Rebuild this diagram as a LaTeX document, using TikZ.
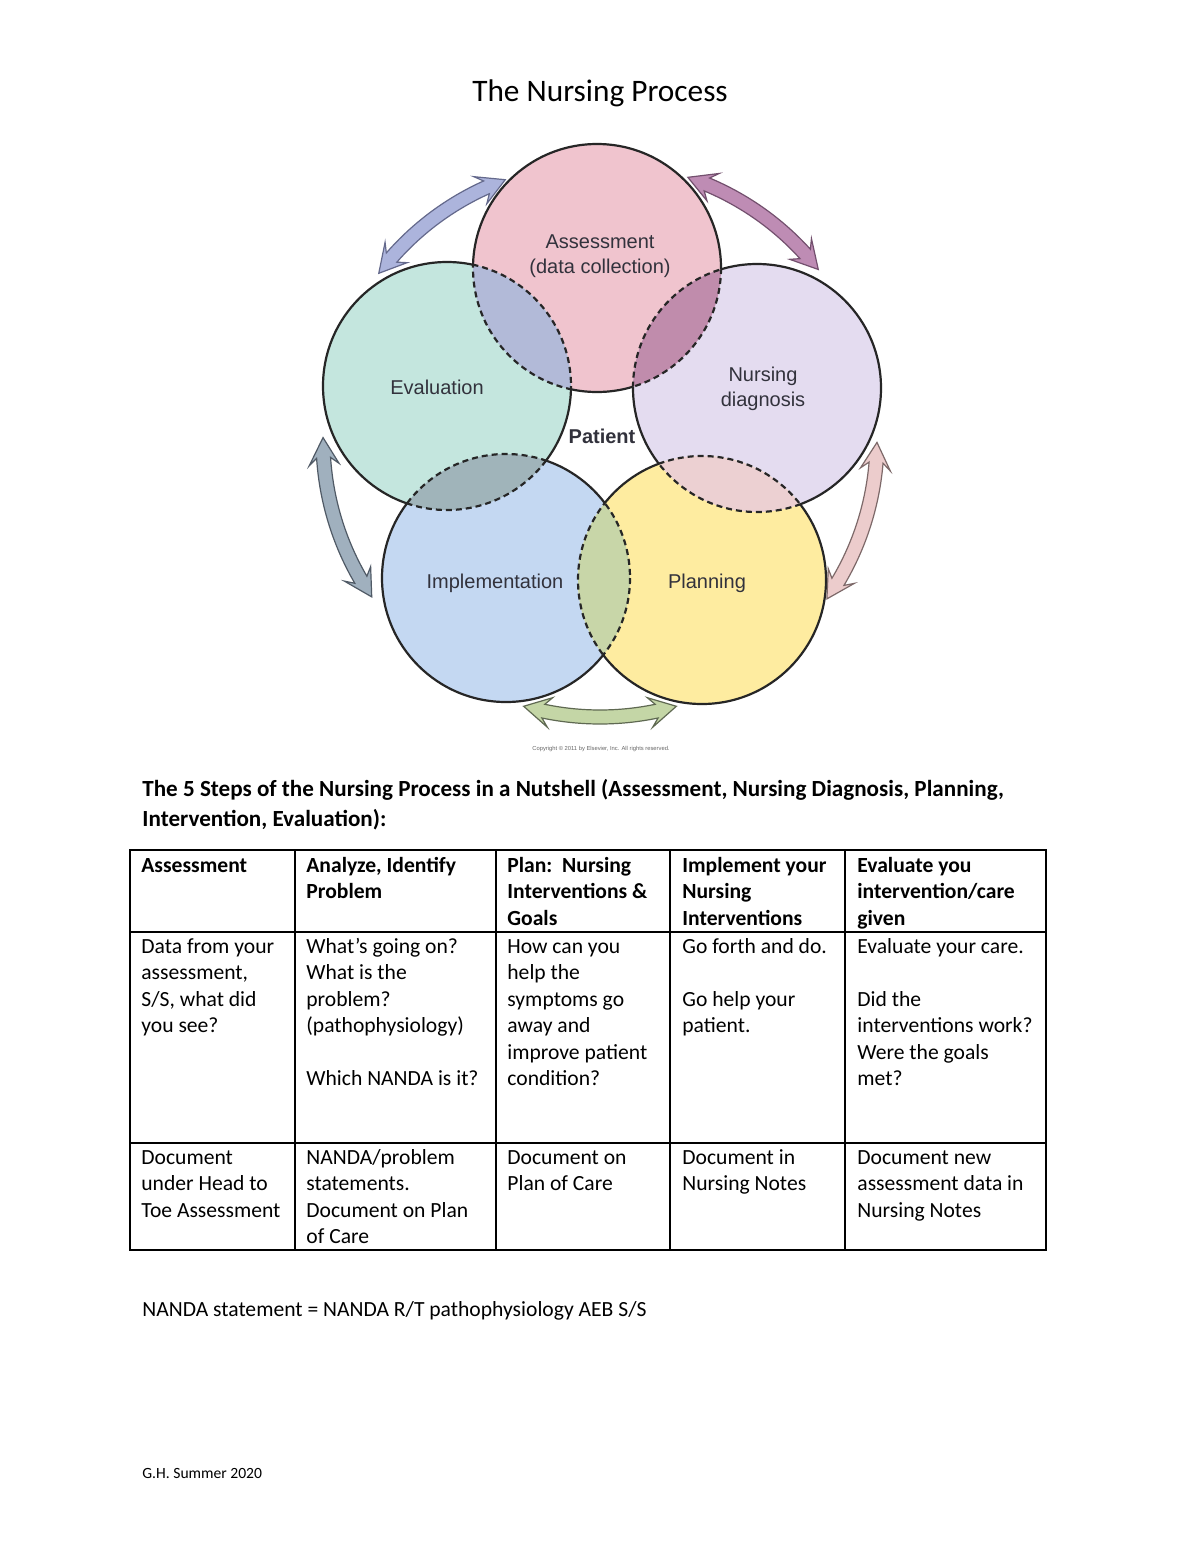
\documentclass[tikz,border=0pt]{standalone}
\usepackage{fontspec}
\setmainfont{Carlito}
\newfontfamily\arialf{Liberation Sans}
\definecolor{cAf}{RGB}{240,196,206}
\definecolor{cEf}{RGB}{196,230,222}
\definecolor{cNf}{RGB}{228,220,240}
\definecolor{cIf}{RGB}{196,216,242}
\definecolor{cPf}{RGB}{254,236,160}
\definecolor{cAE}{RGB}{178,186,216}
\definecolor{cAN}{RGB}{192,140,172}
\definecolor{cEI}{RGB}{160,180,186}
\definecolor{cIP}{RGB}{200,214,168}
\definecolor{cNP}{RGB}{236,208,210}
\definecolor{labgrey}{RGB}{50,50,60}
\definecolor{arTLf}{RGB}{172,180,220}\definecolor{arTLd}{RGB}{100,105,140}
\definecolor{arTRf}{RGB}{190,140,180}\definecolor{arTRd}{RGB}{115,80,110}
\definecolor{arRf}{RGB}{236,204,204}\definecolor{arRd}{RGB}{125,105,105}
\definecolor{arBf}{RGB}{196,214,166}\definecolor{arBd}{RGB}{95,105,82}
\definecolor{arLf}{RGB}{160,176,190}\definecolor{arLd}{RGB}{80,90,102}
\newcommand\NParrow[4]{%
 \filldraw[fill=#3, draw=#4, line width=0.6pt, line join=miter]
  ({-(#1)}:277) -- ({-(#1+5.6)}:292) -- ({-(#1+4.2)}:284)
  arc[start angle={-(#1+4.2)}, end angle={-(#2-4.2)}, radius=284]
  -- ({-(#2-5.6)}:292) -- ({-(#2)}:277) -- ({-(#2-5.6)}:262) -- ({-(#2-4.2)}:270)
  arc[start angle={-(#2-4.2)}, end angle={-(#1+4.2)}, radius=270]
  -- ({-(#1+5.6)}:262) -- cycle;}
\begin{document}
\begin{tikzpicture}[x=0.5pt,y=-0.5pt,
  invclip/.style={clip, insert path={(-500,-500) rectangle (2000,2000)}},
  solidline/.style={draw=black!85, line width=1.1pt},
  dashline/.style={draw=black!85, line width=1.1pt, dash pattern=on 3pt off 2pt},
  lab/.style={font=\arialf\fontsize{10}{12.5}\selectfont, text=labgrey, align=center, inner sep=0pt},
  cell/.style={anchor=base west, inner sep=0pt, font=\fontsize{10.8}{13}\selectfont},
  hcell/.style={cell, font=\bfseries\fontsize{10.8}{13}\selectfont},
  tline/.style={line width=0.8pt, draw=black}]
\useasboundingbox (0,0) rectangle (1200,1553);
\fill[white] (0,0) rectangle (1200,1553);
% title
\node[anchor=base, inner sep=0pt, font=\fontsize{15.65}{18}\selectfont] (title) at (600,101) {The Nursing Process};
% circle centres
\coordinate (cA) at (597,268);
\coordinate (cE) at (447,386);
\coordinate (cN) at (757,388);
\coordinate (cI) at (506,578);
\coordinate (cP) at (702,580);
% fills
\fill[cAf] (cA) circle (124);
\fill[cEf] (cE) circle (124);
\fill[cNf] (cN) circle (124);
\fill[cIf] (cI) circle (124);
\fill[cPf] (cP) circle (124);
\begin{scope}\clip (cA) circle (124);
 \fill[cAE] (cE) circle (124); \fill[cAN] (cN) circle (124);\end{scope}
\begin{scope}\clip (cI) circle (124);
 \fill[cEI] (cE) circle (124); \fill[cIP] (cP) circle (124);\end{scope}
\begin{scope}\clip (cP) circle (124);
 \fill[cNP] (cN) circle (124);\end{scope}
% dashed parts
\foreach \i/\j in {cA/cE,cE/cA,cA/cN,cN/cA,cE/cI,cI/cE,cI/cP,cP/cI,cN/cP,cP/cN}{
 \begin{scope}\clip (\j) circle (124); \draw[dashline] (\i) circle (124);\end{scope}}
% solid parts
\foreach \i/\j/\k in {cA/cE/cN,cE/cA/cI,cN/cA/cP,cI/cE/cP,cP/cI/cN}{
 \begin{scope}\path[invclip] (\j) circle (124);
  \begin{scope}\path[invclip] (\k) circle (124);
   \draw[solidline] (\i) circle (124);
  \end{scope}\end{scope}}
% labels
\node[lab] (lA) at (600,256) {Assessment\\(data collection)};
\node[lab] (lE) at (437,387) {Evaluation};
\node[lab] (lN) at (763,389) {Nursing\\diagnosis};
\node[lab, font=\arialf\bfseries\fontsize{10}{12.5}\selectfont] (lPat) at (602,436) {Patient};
\node[lab] (lI) at (495,583) {Implementation};
\node[lab] (lP) at (707,583) {Planning};
% cycle arrows
\begin{scope}[shift={(600,440)}]
 \NParrow{110}{143}{arTLf}{arTLd}
 \NParrow{38}{71.5}{arTRf}{arTRd}
 \NParrow{-35}{-0.5}{arRf}{arRd}
 \NParrow{-106}{-74}{arBf}{arBd}
 \NParrow{179.5}{214.5}{arLf}{arLd}
\end{scope}
\node[font=\arialf\fontsize{2.9}{3}\selectfont, text=black!60, inner sep=0pt] (copy) at (601,749) {Copyright \textcopyright{} 2011 by Elsevier, Inc. All rights reserved.};
% subtitle
\node[anchor=base west, inner sep=0pt, font=\bfseries\fontsize{11.55}{14}\selectfont] (sub1) at (142,796) {The 5 Steps of the Nursing Process in a Nutshell (Assessment, Nursing Diagnosis, Planning,};
\node[anchor=base west, inner sep=0pt, font=\bfseries\fontsize{11.55}{14}\selectfont] (sub2) at (142,826) {Intervention, Evaluation):};
% table grid
\draw[tline] (130,850) rectangle (1046,1250);
\draw[tline] (130,932) -- (1046,932);
\draw[tline] (130,1143) -- (1046,1143);
\foreach \x in {295,496,670,845}{\draw[tline] (\x,850) -- (\x,1250);}
% header row
\node[hcell] (h11) at (141,872) {Assessment};
\node[hcell] (h21) at (306,872) {Analyze, Identify};
\node[hcell] (h22) at (306,898.5) {Problem};
\node[hcell] (h31) at (507,872) {Plan:\ \ Nursing};
\node[hcell] (h32) at (507,898.5) {Interventions \&};
\node[hcell] (h33) at (507,925) {Goals};
\node[hcell] (h41) at (682,872) {Implement your};
\node[hcell] (h42) at (682,898.5) {Nursing};
\node[hcell] (h43) at (682,925) {Interventions};
\node[hcell] (h51) at (857,872) {Evaluate you};
\node[hcell] (h52) at (857,898.5) {intervention/care};
\node[hcell] (h53) at (857,925) {given};
% second row
\node[cell] (a11) at (141,953) {Data from your};
\node[cell] (a12) at (141,979.5) {assessment,};
\node[cell] (a13) at (141,1006) {S/S, what did};
\node[cell] (a14) at (141,1032.5) {you see?};
\node[cell] (a21) at (306,953) {What’s going on?};
\node[cell] (a22) at (306,979.5) {What is the};
\node[cell] (a23) at (306,1006) {problem?};
\node[cell] (a24) at (306,1032.5) {(pathophysiology)};
\node[cell] (a25) at (306,1085.5) {Which NANDA is it?};
\node[cell] (a31) at (507,953) {How can you};
\node[cell] (a32) at (507,979.5) {help the};
\node[cell] (a33) at (507,1006) {symptoms go};
\node[cell] (a34) at (507,1032.5) {away and};
\node[cell] (a35) at (507,1059) {improve patient};
\node[cell] (a36) at (507,1085.5) {condition?};
\node[cell] (a41) at (682,953) {Go forth and do.};
\node[cell] (a42) at (682,1006) {Go help your};
\node[cell] (a43) at (682,1032.5) {patient.};
\node[cell] (a51) at (857,953) {Evaluate your care.};
\node[cell] (a52) at (857,1006) {Did the};
\node[cell] (a53) at (857,1032.5) {interventions work?};
\node[cell] (a54) at (857,1059) {Were the goals};
\node[cell] (a55) at (857,1085.5) {met?};
% third row
\node[cell] (b11) at (141,1164) {Document};
\node[cell] (b12) at (141,1190.5) {under Head to};
\node[cell] (b13) at (141,1217) {Toe Assessment};
\node[cell] (b21) at (306,1164) {NANDA/problem};
\node[cell] (b22) at (306,1190.5) {statements.};
\node[cell] (b23) at (306,1217) {Document on Plan};
\node[cell] (b24) at (306,1243.5) {of Care};
\node[cell] (b31) at (507,1164) {Document on};
\node[cell] (b32) at (507,1190.5) {Plan of Care};
\node[cell] (b41) at (682,1164) {Document in};
\node[cell] (b42) at (682,1190.5) {Nursing Notes};
\node[cell] (b51) at (857,1164) {Document new};
\node[cell] (b52) at (857,1190.5) {assessment data in};
\node[cell] (b53) at (857,1217) {Nursing Notes};
% bottom notes
\node[cell] (nanda) at (142,1316) {NANDA statement = NANDA R/T pathophysiology AEB S/S};
\node[anchor=base west, inner sep=0pt, font=\fontsize{7.8}{9}\selectfont] (foot) at (142,1478) {G.H. Summer 2020};
\end{tikzpicture}
\end{document}
